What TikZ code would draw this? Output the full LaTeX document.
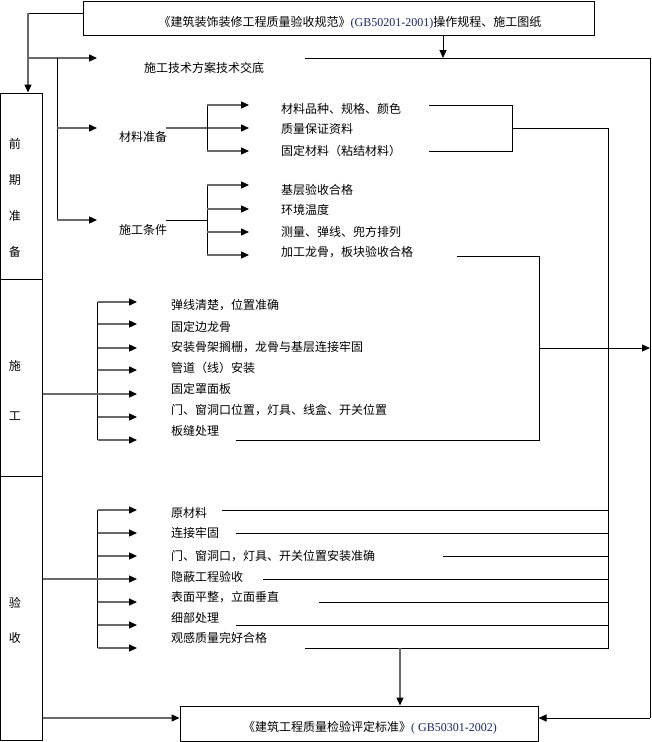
\documentclass[tikz,border=0pt]{standalone}
\usepackage{fontspec}
\setmainfont{Noto Sans CJK SC}
\newfontfamily\lat{Liberation Serif}
\usetikzlibrary{arrows.meta}
\definecolor{gbblue}{RGB}{20,40,115}
\definecolor{shaft}{RGB}{105,105,105}
\begin{document}
\begin{tikzpicture}[x=1pt,y=-1pt,
  ln/.style={line width=1pt,black},
  arr/.style={line width=1.3pt,draw=shaft,-{Triangle[length=8pt,width=7pt,color=black]}},
  barr/.style={line width=1pt,draw=black,-{Triangle[length=8pt,width=7pt,color=black]}},
  txt/.style={anchor=west,inner sep=0pt,font=\fontsize{12}{14}\selectfont},
  box/.style={draw,line width=1pt,inner sep=0pt},
  vtxt/.style={inner sep=0pt,align=center}]
\fill[white] (0,0) rectangle (651,742);
\useasboundingbox (0,0) rectangle (651,742);

% boxes
\node[box,minimum width=511pt,minimum height=34pt] (top) at (338.5,18) {};
\node[txt,anchor=center] (toptxt) at (350,23) {《建筑装饰装修工程质量验收规范》{\lat\color{gbblue}(GB50201-2001)}操作规程、施工图纸};
\node[box,minimum width=358pt,minimum height=35pt] (bot) at (359,723.5) {};
\node[txt,anchor=center] (bottxt) at (370,728) {《建筑工程质量检验评定标准》{\lat\color{gbblue}( GB50301-2002)}};

\node[box,minimum width=42pt,minimum height=186pt] (pre) at (21.5,186) {};
\node[box,minimum width=42pt,minimum height=197pt] (con) at (21.5,377.5) {};
\node[box,minimum width=42pt,minimum height=264pt] (acc) at (21.5,608.5) {};
\node[vtxt,font=\fontsize{12}{36}\selectfont] (pretxt) at (15,198) {前\\期\\准\\备};
\node[vtxt,font=\fontsize{12}{50}\selectfont] (contxt) at (15,390) {施\\工};
\node[vtxt,font=\fontsize{12}{35}\selectfont] (acctxt) at (15,620) {验\\收};

% top flow
\coordinate (a1) at (28,13);
\coordinate (b0) at (28,58);
\coordinate (b1) at (57,58);
\coordinate (b2) at (57,128);
\coordinate (b3) at (57,220);
\draw[ln] (top.west|-a1) -- (a1);
\draw[arr] (a1) -- (a1|-pre.north);
\draw[arr] (b0) -- (97,58);
\draw[ln] (b1) -- (b3);
\draw[arr] (b2) -- (97,128);
\draw[arr] (b3) -- (97,220);
\node[txt] (jsjd) at (144,68) {施工技术方案技术交底};
\coordinate (r0) at (305,58);
\coordinate (r1) at (650,58);
\coordinate (r2) at (650,718);
\draw[ln] (r0) -- (r1) -- (r2);
\draw[barr] (r2) -- (bot.east|-r2);
\coordinate (t0) at (443,35);
\draw[barr] (t0) -- (t0|-r0);

% 材料准备
\node[txt] (clzb) at (119,137) {材料准备};
\coordinate (m0) at (166,128);
\coordinate (m1) at (207,105);
\coordinate (m2) at (207,151);
\draw[arr] (m0) -- (249,128);
\draw[ln] (m1) -- (m2);
\draw[arr] (m1) -- (249,105);
\draw[arr] (m2) -- (249,151);
\node[txt] (m1t) at (281,109) {材料品种、规格、颜色};
\node[txt] (m2t) at (281,129) {质量保证资料};
\node[txt] (m3t) at (281,151) {固定材料（粘结材料）};
\coordinate (k1) at (429,105);
\coordinate (k2) at (512,105);
\coordinate (k3) at (512,151);
\coordinate (k4) at (429,151);
\coordinate (k5) at (512,128);
\coordinate (v0) at (608,128);
\coordinate (v1) at (608,648);
\coordinate (v2) at (305,648);
\draw[ln] (k1) -- (k2) -- (k3) -- (k4);
\draw[ln] (k5) -- (v0) -- (v1) -- (v2);

% 施工条件
\node[txt] (sgtj) at (119,230) {施工条件};
\coordinate (s0) at (166,220);
\coordinate (s1) at (207,185);
\coordinate (s4) at (207,255);
\draw[ln] (s0) -- (207,220);
\draw[ln] (s1) -- (s4);
\foreach \y in {185,209,232,255} \draw[arr] (207,\y) -- (249,\y);
\node[txt] (s1t) at (281,190) {基层验收合格};
\node[txt] (s2t) at (281,210) {环境温度};
\node[txt] (s3t) at (281,232) {测量、弹线、兜方排列};
\node[txt] (s4t) at (281,252) {加工龙骨，板块验收合格};
\coordinate (w0) at (457,256);
\coordinate (w1) at (539,256);
\coordinate (w2) at (539,440);
\coordinate (w3) at (236,440);
\coordinate (w4) at (539,348);
\draw[ln] (w0) -- (w1) -- (w2) -- (w3);
\draw[barr] (w4) -- (r1|-w4);

% 施工
\coordinate (c1) at (97.5,302);
\coordinate (c7) at (97.5,440);
\coordinate (c5) at (137,394);
\draw[ln] (c1) -- (c7);
\draw[arr] (con.east|-c5) -- (c5);
\foreach \y in {302,324,348,370,417,440} \draw[arr] (97.5,\y) -- (137,\y);
\node[txt] (c1t) at (171,305) {弹线清楚，位置准确};
\node[txt] (c2t) at (171,327) {固定边龙骨};
\node[txt] (c3t) at (171,347) {安装骨架搁栅，龙骨与基层连接牢固};
\node[txt] (c4t) at (171,368) {管道（线）安装};
\node[txt] (c5t) at (171,389) {固定罩面板};
\node[txt] (c6t) at (171,410) {门、窗洞口位置，灯具、线盒、开关位置};
\node[txt] (c7t) at (171,431) {板缝处理};

% 验收
\coordinate (d1) at (97.5,510);
\coordinate (d7) at (97.5,648);
\coordinate (d4) at (137,579);
\draw[ln] (d1) -- (d7);
\draw[arr] (acc.east|-d4) -- (d4);
\foreach \y in {510,533,556,602,625,648} \draw[arr] (97.5,\y) -- (137,\y);
\node[txt] (d1t) at (171,513) {原材料};
\node[txt] (d2t) at (171,533) {连接牢固};
\node[txt] (d3t) at (171,556) {门、窗洞口，灯具、开关位置安装准确};
\node[txt] (d4t) at (171,577) {隐蔽工程验收};
\node[txt] (d5t) at (171,597) {表面平整，立面垂直};
\node[txt] (d6t) at (171,618) {细部处理};
\node[txt] (d7t) at (171,638) {观感质量完好合格};
\foreach \y/\xe in {510/222,533/236,556/443,579/263,602/319,625/236}
  \draw[ln] (608,\y) -- (\xe,\y);
\coordinate (e0) at (400,648);
\coordinate (e1) at (180,718);
\draw[arr] (e0) -- (e0|-bot.north);
\draw[arr] (acc.east|-e1) -- (bot.west|-e1);
\end{tikzpicture}
\end{document}
